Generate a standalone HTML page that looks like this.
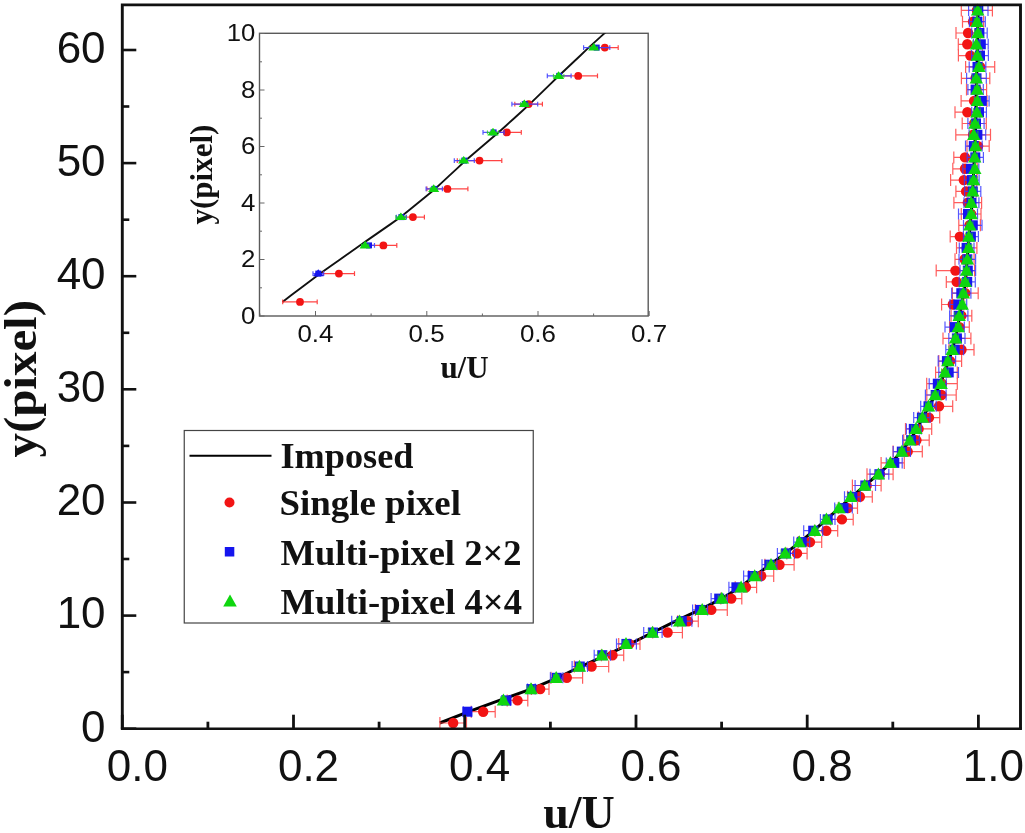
<!DOCTYPE html>
<html lang="en"><head><meta charset="utf-8"><title>Velocity profile u/U versus y(pixel)</title>
<style>html,body{margin:0;padding:0;background:#fff}body{width:1025px;height:833px;overflow:hidden}svg{display:block}</style>
</head><body>
<svg width="1025" height="833" viewBox="0 0 1025 833">
<rect x="0" y="0" width="1025" height="833" fill="#fff"/>
<g id="main-data">
<path d="M439.8 723.0 L468.7 711.7 L499.4 700.4 L530.8 689.1 L557.4 677.8 L580.8 666.5 L606.2 655.2 L630.2 643.9 L652.6 632.5 L675.6 621.2 L699.6 609.9 L721.9 598.6 L740.0 587.3 L754.9 576.0 L770.0 564.7 L785.3 553.4 L800.0 542.1 L813.8 530.7 L826.5 519.4 L839.2 508.1 L851.7 496.8 L865.0 485.5 L878.3 474.2 L891.0 462.9 L901.5 451.6 L910.0 440.2 L916.9 428.9 L922.8 417.6 L929.0 406.3 L935.3 395.0 L940.3 383.7 L944.7 372.4 L948.5 361.1 L952.4 349.7 L955.3 338.4 L957.7 327.1 L959.7 315.8 L961.5 304.5 L963.6 293.2 L965.3 281.9 L966.3 270.6 L967.2 259.3 L968.2 247.9 L969.1 236.6 L970.1 225.3 L971.1 214.0 L972.1 202.7 L972.7 191.4 L973.2 180.1 L973.8 168.8 L974.3 157.4 L974.8 146.1 L975.3 134.8 L975.7 123.5 L976.0 112.2 L976.2 100.9 L976.4 89.6 L976.7 78.3 L977.0 66.9 L977.3 55.6 L977.5 44.3 L977.7 33.0 L977.9 21.7 L978.1 10.4" stroke="#000" stroke-width="3" fill="none" stroke-linejoin="round"/>
<path d="M439.9 723.0H466.5M439.9 717.0V729.0M466.5 717.0V729.0" stroke="#ff4040" stroke-width="1.2" fill="none" opacity="0.85"/>
<path d="M471.2 711.7H495.2M471.2 705.7V717.7M495.2 705.7V717.7" stroke="#ff4040" stroke-width="1.2" fill="none" opacity="0.85"/>
<path d="M507.2 700.4H527.8M507.2 694.4V706.4M527.8 694.4V706.4" stroke="#ff4040" stroke-width="1.2" fill="none" opacity="0.85"/>
<path d="M531.4 689.1H549.0M531.4 683.1V695.1M549.0 683.1V695.1" stroke="#ff4040" stroke-width="1.2" fill="none" opacity="0.85"/>
<path d="M551.0 677.8H582.6M551.0 671.8V683.8M582.6 671.8V683.8" stroke="#ff4040" stroke-width="1.2" fill="none" opacity="0.85"/>
<path d="M574.4 666.5H608.7M574.4 660.5V672.5M608.7 660.5V672.5" stroke="#ff4040" stroke-width="1.2" fill="none" opacity="0.85"/>
<path d="M601.4 655.2H623.7M601.4 649.2V661.2M623.7 649.2V661.2" stroke="#ff4040" stroke-width="1.2" fill="none" opacity="0.85"/>
<path d="M618.7 643.9H640.0M618.7 637.9V649.9M640.0 637.9V649.9" stroke="#ff4040" stroke-width="1.2" fill="none" opacity="0.85"/>
<path d="M652.7 632.5H682.4M652.7 626.5V638.5M682.4 626.5V638.5" stroke="#ff4040" stroke-width="1.2" fill="none" opacity="0.85"/>
<path d="M677.8 621.2H698.3M677.8 615.2V627.2M698.3 615.2V627.2" stroke="#ff4040" stroke-width="1.2" fill="none" opacity="0.85"/>
<path d="M695.3 609.9H727.3M695.3 603.9V615.9M727.3 603.9V615.9" stroke="#ff4040" stroke-width="1.2" fill="none" opacity="0.85"/>
<path d="M720.8 598.6H741.8M720.8 592.6V604.6M741.8 592.6V604.6" stroke="#ff4040" stroke-width="1.2" fill="none" opacity="0.85"/>
<path d="M735.2 587.3H756.6M735.2 581.3V593.3M756.6 581.3V593.3" stroke="#ff4040" stroke-width="1.2" fill="none" opacity="0.85"/>
<path d="M748.8 576.0H773.7M748.8 570.0V582.0M773.7 570.0V582.0" stroke="#ff4040" stroke-width="1.2" fill="none" opacity="0.85"/>
<path d="M764.9 564.7H794.1M764.9 558.7V570.7M794.1 558.7V570.7" stroke="#ff4040" stroke-width="1.2" fill="none" opacity="0.85"/>
<path d="M786.8 553.4H807.1M786.8 547.4V559.4M807.1 547.4V559.4" stroke="#ff4040" stroke-width="1.2" fill="none" opacity="0.85"/>
<path d="M798.3 542.1H821.7M798.3 536.1V548.1M821.7 536.1V548.1" stroke="#ff4040" stroke-width="1.2" fill="none" opacity="0.85"/>
<path d="M814.8 530.7H837.7M814.8 524.7V536.7M837.7 524.7V536.7" stroke="#ff4040" stroke-width="1.2" fill="none" opacity="0.85"/>
<path d="M830.6 519.4H853.2M830.6 513.4V525.4M853.2 513.4V525.4" stroke="#ff4040" stroke-width="1.2" fill="none" opacity="0.85"/>
<path d="M838.3 508.1H857.5M838.3 502.1V514.1M857.5 502.1V514.1" stroke="#ff4040" stroke-width="1.2" fill="none" opacity="0.85"/>
<path d="M847.5 496.8H872.3M847.5 490.8V502.8M872.3 490.8V502.8" stroke="#ff4040" stroke-width="1.2" fill="none" opacity="0.85"/>
<path d="M852.4 485.5H881.1M852.4 479.5V491.5M881.1 479.5V491.5" stroke="#ff4040" stroke-width="1.2" fill="none" opacity="0.85"/>
<path d="M867.0 474.2H893.1M867.0 468.2V480.2M893.1 468.2V480.2" stroke="#ff4040" stroke-width="1.2" fill="none" opacity="0.85"/>
<path d="M881.1 462.9H904.3M881.1 456.9V468.9M904.3 456.9V468.9" stroke="#ff4040" stroke-width="1.2" fill="none" opacity="0.85"/>
<path d="M893.1 451.6H922.3M893.1 445.6V457.6M922.3 445.6V457.6" stroke="#ff4040" stroke-width="1.2" fill="none" opacity="0.85"/>
<path d="M903.7 440.2H929.2M903.7 434.2V446.2M929.2 434.2V446.2" stroke="#ff4040" stroke-width="1.2" fill="none" opacity="0.85"/>
<path d="M905.5 428.9H931.7M905.5 422.9V434.9M931.7 422.9V434.9" stroke="#ff4040" stroke-width="1.2" fill="none" opacity="0.85"/>
<path d="M918.3 417.6H939.7M918.3 411.6V423.6M939.7 411.6V423.6" stroke="#ff4040" stroke-width="1.2" fill="none" opacity="0.85"/>
<path d="M925.3 406.3H952.7M925.3 400.3V412.3M952.7 400.3V412.3" stroke="#ff4040" stroke-width="1.2" fill="none" opacity="0.85"/>
<path d="M926.8 395.0H956.2M926.8 389.0V401.0M956.2 389.0V401.0" stroke="#ff4040" stroke-width="1.2" fill="none" opacity="0.85"/>
<path d="M926.7 383.7H957.3M926.7 377.7V389.7M957.3 377.7V389.7" stroke="#ff4040" stroke-width="1.2" fill="none" opacity="0.85"/>
<path d="M935.6 372.4H957.3M935.6 366.4V378.4M957.3 366.4V378.4" stroke="#ff4040" stroke-width="1.2" fill="none" opacity="0.85"/>
<path d="M938.8 361.1H961.6M938.8 355.1V367.1M961.6 355.1V367.1" stroke="#ff4040" stroke-width="1.2" fill="none" opacity="0.85"/>
<path d="M949.0 349.7H974.0M949.0 343.7V355.7M974.0 343.7V355.7" stroke="#ff4040" stroke-width="1.2" fill="none" opacity="0.85"/>
<path d="M943.0 338.4H970.9M943.0 332.4V344.4M970.9 332.4V344.4" stroke="#ff4040" stroke-width="1.2" fill="none" opacity="0.85"/>
<path d="M949.6 327.1H969.3M949.6 321.1V333.1M969.3 321.1V333.1" stroke="#ff4040" stroke-width="1.2" fill="none" opacity="0.85"/>
<path d="M951.1 315.8H971.8M951.1 309.8V321.8M971.8 309.8V321.8" stroke="#ff4040" stroke-width="1.2" fill="none" opacity="0.85"/>
<path d="M941.6 304.5H963.9M941.6 298.5V310.5M963.9 298.5V310.5" stroke="#ff4040" stroke-width="1.2" fill="none" opacity="0.85"/>
<path d="M952.4 293.2H978.2M952.4 287.2V299.2M978.2 287.2V299.2" stroke="#ff4040" stroke-width="1.2" fill="none" opacity="0.85"/>
<path d="M946.3 281.9H967.2M946.3 275.9V287.9M967.2 275.9V287.9" stroke="#ff4040" stroke-width="1.2" fill="none" opacity="0.85"/>
<path d="M936.2 270.6H974.6M936.2 264.6V276.6M974.6 264.6V276.6" stroke="#ff4040" stroke-width="1.2" fill="none" opacity="0.85"/>
<path d="M955.0 259.3H974.1M955.0 253.3V265.3M974.1 253.3V265.3" stroke="#ff4040" stroke-width="1.2" fill="none" opacity="0.85"/>
<path d="M956.5 247.9H976.9M956.5 241.9V253.9M976.9 241.9V253.9" stroke="#ff4040" stroke-width="1.2" fill="none" opacity="0.85"/>
<path d="M950.2 236.6H969.4M950.2 230.6V242.6M969.4 230.6V242.6" stroke="#ff4040" stroke-width="1.2" fill="none" opacity="0.85"/>
<path d="M958.8 225.3H980.4M958.8 219.3V231.3M980.4 219.3V231.3" stroke="#ff4040" stroke-width="1.2" fill="none" opacity="0.85"/>
<path d="M961.3 214.0H981.0M961.3 208.0V220.0M981.0 208.0V220.0" stroke="#ff4040" stroke-width="1.2" fill="none" opacity="0.85"/>
<path d="M953.9 202.7H981.6M953.9 196.7V208.7M981.6 196.7V208.7" stroke="#ff4040" stroke-width="1.2" fill="none" opacity="0.85"/>
<path d="M955.9 191.4H976.4M955.9 185.4V197.4M976.4 185.4V197.4" stroke="#ff4040" stroke-width="1.2" fill="none" opacity="0.85"/>
<path d="M950.6 180.1H977.0M950.6 174.1V186.1M977.0 174.1V186.1" stroke="#ff4040" stroke-width="1.2" fill="none" opacity="0.85"/>
<path d="M952.8 168.8H977.2M952.8 162.8V174.8M977.2 162.8V174.8" stroke="#ff4040" stroke-width="1.2" fill="none" opacity="0.85"/>
<path d="M953.8 157.4H976.2M953.8 151.4V163.4M976.2 151.4V163.4" stroke="#ff4040" stroke-width="1.2" fill="none" opacity="0.85"/>
<path d="M967.0 146.1H989.2M967.0 140.1V152.1M989.2 140.1V152.1" stroke="#ff4040" stroke-width="1.2" fill="none" opacity="0.85"/>
<path d="M955.8 134.8H990.5M955.8 128.8V140.8M990.5 128.8V140.8" stroke="#ff4040" stroke-width="1.2" fill="none" opacity="0.85"/>
<path d="M962.2 123.5H986.3M962.2 117.5V129.5M986.3 117.5V129.5" stroke="#ff4040" stroke-width="1.2" fill="none" opacity="0.85"/>
<path d="M955.0 112.2H979.9M955.0 106.2V118.2M979.9 106.2V118.2" stroke="#ff4040" stroke-width="1.2" fill="none" opacity="0.85"/>
<path d="M961.1 100.9H987.0M961.1 94.9V106.9M987.0 94.9V106.9" stroke="#ff4040" stroke-width="1.2" fill="none" opacity="0.85"/>
<path d="M966.5 89.6H986.6M966.5 83.6V95.6M986.6 83.6V95.6" stroke="#ff4040" stroke-width="1.2" fill="none" opacity="0.85"/>
<path d="M961.4 78.3H989.8M961.4 72.3V84.3M989.8 72.3V84.3" stroke="#ff4040" stroke-width="1.2" fill="none" opacity="0.85"/>
<path d="M965.6 66.9H994.7M965.6 60.9V72.9M994.7 60.9V72.9" stroke="#ff4040" stroke-width="1.2" fill="none" opacity="0.85"/>
<path d="M958.4 55.6H982.5M958.4 49.6V61.6M982.5 49.6V61.6" stroke="#ff4040" stroke-width="1.2" fill="none" opacity="0.85"/>
<path d="M958.3 44.3H976.4M958.3 38.3V50.3M976.4 38.3V50.3" stroke="#ff4040" stroke-width="1.2" fill="none" opacity="0.85"/>
<path d="M956.0 33.0H980.2M956.0 27.0V39.0M980.2 27.0V39.0" stroke="#ff4040" stroke-width="1.2" fill="none" opacity="0.85"/>
<path d="M962.5 21.7H983.6M962.5 15.7V27.7M983.6 15.7V27.7" stroke="#ff4040" stroke-width="1.2" fill="none" opacity="0.85"/>
<path d="M961.3 10.4H992.4M961.3 4.4V16.4M992.4 4.4V16.4" stroke="#ff4040" stroke-width="1.2" fill="none" opacity="0.85"/>
<circle cx="453.2" cy="723.0" r="5.2" fill="#f21414"/>
<circle cx="483.2" cy="711.7" r="5.2" fill="#f21414"/>
<circle cx="517.5" cy="700.4" r="5.2" fill="#f21414"/>
<circle cx="540.2" cy="689.1" r="5.2" fill="#f21414"/>
<circle cx="566.8" cy="677.8" r="5.2" fill="#f21414"/>
<circle cx="591.6" cy="666.5" r="5.2" fill="#f21414"/>
<circle cx="612.5" cy="655.2" r="5.2" fill="#f21414"/>
<circle cx="629.3" cy="643.9" r="5.2" fill="#f21414"/>
<circle cx="667.6" cy="632.5" r="5.2" fill="#f21414"/>
<circle cx="688.0" cy="621.2" r="5.2" fill="#f21414"/>
<circle cx="711.3" cy="609.9" r="5.2" fill="#f21414"/>
<circle cx="731.3" cy="598.6" r="5.2" fill="#f21414"/>
<circle cx="745.9" cy="587.3" r="5.2" fill="#f21414"/>
<circle cx="761.2" cy="576.0" r="5.2" fill="#f21414"/>
<circle cx="779.5" cy="564.7" r="5.2" fill="#f21414"/>
<circle cx="797.0" cy="553.4" r="5.2" fill="#f21414"/>
<circle cx="810.0" cy="542.1" r="5.2" fill="#f21414"/>
<circle cx="826.3" cy="530.7" r="5.2" fill="#f21414"/>
<circle cx="841.9" cy="519.4" r="5.2" fill="#f21414"/>
<circle cx="847.9" cy="508.1" r="5.2" fill="#f21414"/>
<circle cx="859.9" cy="496.8" r="5.2" fill="#f21414"/>
<circle cx="866.7" cy="485.5" r="5.2" fill="#f21414"/>
<circle cx="880.0" cy="474.2" r="5.2" fill="#f21414"/>
<circle cx="892.7" cy="462.9" r="5.2" fill="#f21414"/>
<circle cx="907.7" cy="451.6" r="5.2" fill="#f21414"/>
<circle cx="916.4" cy="440.2" r="5.2" fill="#f21414"/>
<circle cx="918.6" cy="428.9" r="5.2" fill="#f21414"/>
<circle cx="929.0" cy="417.6" r="5.2" fill="#f21414"/>
<circle cx="939.0" cy="406.3" r="5.2" fill="#f21414"/>
<circle cx="941.5" cy="395.0" r="5.2" fill="#f21414"/>
<circle cx="942.0" cy="383.7" r="5.2" fill="#f21414"/>
<circle cx="946.4" cy="372.4" r="5.2" fill="#f21414"/>
<circle cx="950.2" cy="361.1" r="5.2" fill="#f21414"/>
<circle cx="961.5" cy="349.7" r="5.2" fill="#f21414"/>
<circle cx="957.0" cy="338.4" r="5.2" fill="#f21414"/>
<circle cx="959.5" cy="327.1" r="5.2" fill="#f21414"/>
<circle cx="961.4" cy="315.8" r="5.2" fill="#f21414"/>
<circle cx="952.8" cy="304.5" r="5.2" fill="#f21414"/>
<circle cx="965.3" cy="293.2" r="5.2" fill="#f21414"/>
<circle cx="956.7" cy="281.9" r="5.2" fill="#f21414"/>
<circle cx="955.4" cy="270.6" r="5.2" fill="#f21414"/>
<circle cx="964.6" cy="259.3" r="5.2" fill="#f21414"/>
<circle cx="966.7" cy="247.9" r="5.2" fill="#f21414"/>
<circle cx="959.8" cy="236.6" r="5.2" fill="#f21414"/>
<circle cx="969.6" cy="225.3" r="5.2" fill="#f21414"/>
<circle cx="971.1" cy="214.0" r="5.2" fill="#f21414"/>
<circle cx="967.8" cy="202.7" r="5.2" fill="#f21414"/>
<circle cx="966.1" cy="191.4" r="5.2" fill="#f21414"/>
<circle cx="963.8" cy="180.1" r="5.2" fill="#f21414"/>
<circle cx="965.0" cy="168.8" r="5.2" fill="#f21414"/>
<circle cx="965.0" cy="157.4" r="5.2" fill="#f21414"/>
<circle cx="978.1" cy="146.1" r="5.2" fill="#f21414"/>
<circle cx="973.1" cy="134.8" r="5.2" fill="#f21414"/>
<circle cx="974.2" cy="123.5" r="5.2" fill="#f21414"/>
<circle cx="967.4" cy="112.2" r="5.2" fill="#f21414"/>
<circle cx="974.1" cy="100.9" r="5.2" fill="#f21414"/>
<circle cx="976.6" cy="89.6" r="5.2" fill="#f21414"/>
<circle cx="975.6" cy="78.3" r="5.2" fill="#f21414"/>
<circle cx="980.2" cy="66.9" r="5.2" fill="#f21414"/>
<circle cx="970.4" cy="55.6" r="5.2" fill="#f21414"/>
<circle cx="967.3" cy="44.3" r="5.2" fill="#f21414"/>
<circle cx="968.1" cy="33.0" r="5.2" fill="#f21414"/>
<circle cx="973.0" cy="21.7" r="5.2" fill="#f21414"/>
<circle cx="976.9" cy="10.4" r="5.2" fill="#f21414"/>
<path d="M463.3 711.7H471.5M463.3 706.2V717.2M471.5 706.2V717.2" stroke="#3a3aff" stroke-width="1.2" fill="none" opacity="0.85"/>
<path d="M502.1 700.4H510.6M502.1 694.9V705.9M510.6 694.9V705.9" stroke="#3a3aff" stroke-width="1.2" fill="none" opacity="0.85"/>
<path d="M527.5 689.1H535.2M527.5 683.6V694.6M535.2 683.6V694.6" stroke="#3a3aff" stroke-width="1.2" fill="none" opacity="0.85"/>
<path d="M550.4 677.8H562.9M550.4 672.3V683.3M562.9 672.3V683.3" stroke="#3a3aff" stroke-width="1.2" fill="none" opacity="0.85"/>
<path d="M572.1 666.5H587.5M572.1 661.0V672.0M587.5 661.0V672.0" stroke="#3a3aff" stroke-width="1.2" fill="none" opacity="0.85"/>
<path d="M594.2 655.2H610.5M594.2 649.7V660.7M610.5 649.7V660.7" stroke="#3a3aff" stroke-width="1.2" fill="none" opacity="0.85"/>
<path d="M616.5 643.9H636.4M616.5 638.4V649.4M636.4 638.4V649.4" stroke="#3a3aff" stroke-width="1.2" fill="none" opacity="0.85"/>
<path d="M643.7 632.5H662.1M643.7 627.0V638.0M662.1 627.0V638.0" stroke="#3a3aff" stroke-width="1.2" fill="none" opacity="0.85"/>
<path d="M671.7 621.2H691.9M671.7 615.7V626.7M691.9 615.7V626.7" stroke="#3a3aff" stroke-width="1.2" fill="none" opacity="0.85"/>
<path d="M692.6 609.9H707.5M692.6 604.4V615.4M707.5 604.4V615.4" stroke="#3a3aff" stroke-width="1.2" fill="none" opacity="0.85"/>
<path d="M711.1 598.6H727.3M711.1 593.1V604.1M727.3 593.1V604.1" stroke="#3a3aff" stroke-width="1.2" fill="none" opacity="0.85"/>
<path d="M728.9 587.3H743.8M728.9 581.8V592.8M743.8 581.8V592.8" stroke="#3a3aff" stroke-width="1.2" fill="none" opacity="0.85"/>
<path d="M743.6 576.0H761.7M743.6 570.5V581.5M761.7 570.5V581.5" stroke="#3a3aff" stroke-width="1.2" fill="none" opacity="0.85"/>
<path d="M762.0 564.7H776.9M762.0 559.2V570.2M776.9 559.2V570.2" stroke="#3a3aff" stroke-width="1.2" fill="none" opacity="0.85"/>
<path d="M777.4 553.4H794.5M777.4 547.9V558.9M794.5 547.9V558.9" stroke="#3a3aff" stroke-width="1.2" fill="none" opacity="0.85"/>
<path d="M793.7 542.1H809.7M793.7 536.6V547.6M809.7 536.6V547.6" stroke="#3a3aff" stroke-width="1.2" fill="none" opacity="0.85"/>
<path d="M803.7 530.7H822.7M803.7 525.2V536.2M822.7 525.2V536.2" stroke="#3a3aff" stroke-width="1.2" fill="none" opacity="0.85"/>
<path d="M820.4 519.4H835.0M820.4 513.9V524.9M835.0 513.9V524.9" stroke="#3a3aff" stroke-width="1.2" fill="none" opacity="0.85"/>
<path d="M834.7 508.1H852.3M834.7 502.6V513.6M852.3 502.6V513.6" stroke="#3a3aff" stroke-width="1.2" fill="none" opacity="0.85"/>
<path d="M844.5 496.8H860.4M844.5 491.3V502.3M860.4 491.3V502.3" stroke="#3a3aff" stroke-width="1.2" fill="none" opacity="0.85"/>
<path d="M855.1 485.5H875.5M855.1 480.0V491.0M875.5 480.0V491.0" stroke="#3a3aff" stroke-width="1.2" fill="none" opacity="0.85"/>
<path d="M870.0 474.2H888.8M870.0 468.7V479.7M888.8 468.7V479.7" stroke="#3a3aff" stroke-width="1.2" fill="none" opacity="0.85"/>
<path d="M886.3 462.9H902.2M886.3 457.4V468.4M902.2 457.4V468.4" stroke="#3a3aff" stroke-width="1.2" fill="none" opacity="0.85"/>
<path d="M893.2 451.6H910.4M893.2 446.1V457.1M910.4 446.1V457.1" stroke="#3a3aff" stroke-width="1.2" fill="none" opacity="0.85"/>
<path d="M902.6 440.2H919.3M902.6 434.7V445.7M919.3 434.7V445.7" stroke="#3a3aff" stroke-width="1.2" fill="none" opacity="0.85"/>
<path d="M906.4 428.9H921.3M906.4 423.4V434.4M921.3 423.4V434.4" stroke="#3a3aff" stroke-width="1.2" fill="none" opacity="0.85"/>
<path d="M913.7 417.6H930.0M913.7 412.1V423.1M930.0 412.1V423.1" stroke="#3a3aff" stroke-width="1.2" fill="none" opacity="0.85"/>
<path d="M920.7 406.3H936.2M920.7 400.8V411.8M936.2 400.8V411.8" stroke="#3a3aff" stroke-width="1.2" fill="none" opacity="0.85"/>
<path d="M925.4 395.0H946.1M925.4 389.5V400.5M946.1 389.5V400.5" stroke="#3a3aff" stroke-width="1.2" fill="none" opacity="0.85"/>
<path d="M929.2 383.7H946.3M929.2 378.2V389.2M946.3 378.2V389.2" stroke="#3a3aff" stroke-width="1.2" fill="none" opacity="0.85"/>
<path d="M938.8 372.4H958.5M938.8 366.9V377.9M958.5 366.9V377.9" stroke="#3a3aff" stroke-width="1.2" fill="none" opacity="0.85"/>
<path d="M938.2 361.1H955.6M938.2 355.6V366.6M955.6 355.6V366.6" stroke="#3a3aff" stroke-width="1.2" fill="none" opacity="0.85"/>
<path d="M945.8 349.7H963.6M945.8 344.2V355.2M963.6 344.2V355.2" stroke="#3a3aff" stroke-width="1.2" fill="none" opacity="0.85"/>
<path d="M948.8 338.4H965.0M948.8 332.9V343.9M965.0 332.9V343.9" stroke="#3a3aff" stroke-width="1.2" fill="none" opacity="0.85"/>
<path d="M945.0 327.1H964.3M945.0 321.6V332.6M964.3 321.6V332.6" stroke="#3a3aff" stroke-width="1.2" fill="none" opacity="0.85"/>
<path d="M949.6 315.8H967.9M949.6 310.3V321.3M967.9 310.3V321.3" stroke="#3a3aff" stroke-width="1.2" fill="none" opacity="0.85"/>
<path d="M950.0 304.5H966.7M950.0 299.0V310.0M966.7 299.0V310.0" stroke="#3a3aff" stroke-width="1.2" fill="none" opacity="0.85"/>
<path d="M951.7 293.2H970.9M951.7 287.7V298.7M970.9 287.7V298.7" stroke="#3a3aff" stroke-width="1.2" fill="none" opacity="0.85"/>
<path d="M959.2 281.9H975.3M959.2 276.4V287.4M975.3 276.4V287.4" stroke="#3a3aff" stroke-width="1.2" fill="none" opacity="0.85"/>
<path d="M960.0 270.6H975.6M960.0 265.1V276.1M975.6 265.1V276.1" stroke="#3a3aff" stroke-width="1.2" fill="none" opacity="0.85"/>
<path d="M959.0 259.3H975.6M959.0 253.8V264.8M975.6 253.8V264.8" stroke="#3a3aff" stroke-width="1.2" fill="none" opacity="0.85"/>
<path d="M959.3 247.9H974.0M959.3 242.4V253.4M974.0 242.4V253.4" stroke="#3a3aff" stroke-width="1.2" fill="none" opacity="0.85"/>
<path d="M963.4 236.6H978.4M963.4 231.1V242.1M978.4 231.1V242.1" stroke="#3a3aff" stroke-width="1.2" fill="none" opacity="0.85"/>
<path d="M963.5 225.3H982.0M963.5 219.8V230.8M982.0 219.8V230.8" stroke="#3a3aff" stroke-width="1.2" fill="none" opacity="0.85"/>
<path d="M958.5 214.0H977.5M958.5 208.5V219.5M977.5 208.5V219.5" stroke="#3a3aff" stroke-width="1.2" fill="none" opacity="0.85"/>
<path d="M964.0 202.7H978.9M964.0 197.2V208.2M978.9 197.2V208.2" stroke="#3a3aff" stroke-width="1.2" fill="none" opacity="0.85"/>
<path d="M964.7 191.4H980.8M964.7 185.9V196.9M980.8 185.9V196.9" stroke="#3a3aff" stroke-width="1.2" fill="none" opacity="0.85"/>
<path d="M964.4 180.1H979.1M964.4 174.6V185.6M979.1 174.6V185.6" stroke="#3a3aff" stroke-width="1.2" fill="none" opacity="0.85"/>
<path d="M962.9 168.8H978.8M962.9 163.3V174.3M978.8 163.3V174.3" stroke="#3a3aff" stroke-width="1.2" fill="none" opacity="0.85"/>
<path d="M967.2 157.4H983.4M967.2 151.9V162.9M983.4 151.9V162.9" stroke="#3a3aff" stroke-width="1.2" fill="none" opacity="0.85"/>
<path d="M965.5 146.1H982.2M965.5 140.6V151.6M982.2 140.6V151.6" stroke="#3a3aff" stroke-width="1.2" fill="none" opacity="0.85"/>
<path d="M969.1 134.8H985.7M969.1 129.3V140.3M985.7 129.3V140.3" stroke="#3a3aff" stroke-width="1.2" fill="none" opacity="0.85"/>
<path d="M967.9 123.5H984.1M967.9 118.0V129.0M984.1 118.0V129.0" stroke="#3a3aff" stroke-width="1.2" fill="none" opacity="0.85"/>
<path d="M971.7 112.2H986.4M971.7 106.7V117.7M986.4 106.7V117.7" stroke="#3a3aff" stroke-width="1.2" fill="none" opacity="0.85"/>
<path d="M974.5 100.9H989.1M974.5 95.4V106.4M989.1 95.4V106.4" stroke="#3a3aff" stroke-width="1.2" fill="none" opacity="0.85"/>
<path d="M967.9 89.6H983.3M967.9 84.1V95.1M983.3 84.1V95.1" stroke="#3a3aff" stroke-width="1.2" fill="none" opacity="0.85"/>
<path d="M966.6 78.3H986.3M966.6 72.8V83.8M986.3 72.8V83.8" stroke="#3a3aff" stroke-width="1.2" fill="none" opacity="0.85"/>
<path d="M969.2 66.9H985.8M969.2 61.4V72.4M985.8 61.4V72.4" stroke="#3a3aff" stroke-width="1.2" fill="none" opacity="0.85"/>
<path d="M971.6 55.6H988.4M971.6 50.1V61.1M988.4 50.1V61.1" stroke="#3a3aff" stroke-width="1.2" fill="none" opacity="0.85"/>
<path d="M973.4 44.3H988.2M973.4 38.8V49.8M988.2 38.8V49.8" stroke="#3a3aff" stroke-width="1.2" fill="none" opacity="0.85"/>
<path d="M971.7 33.0H987.2M971.7 27.5V38.5M987.2 27.5V38.5" stroke="#3a3aff" stroke-width="1.2" fill="none" opacity="0.85"/>
<path d="M969.4 21.7H985.3M969.4 16.2V27.2M985.3 16.2V27.2" stroke="#3a3aff" stroke-width="1.2" fill="none" opacity="0.85"/>
<path d="M968.6 10.4H988.0M968.6 4.9V15.9M988.0 4.9V15.9" stroke="#3a3aff" stroke-width="1.2" fill="none" opacity="0.85"/>
<rect x="462.4" y="706.7" width="10" height="10" fill="#1515ee"/>
<rect x="501.4" y="695.4" width="10" height="10" fill="#1515ee"/>
<rect x="526.4" y="684.1" width="10" height="10" fill="#1515ee"/>
<rect x="551.7" y="672.8" width="10" height="10" fill="#1515ee"/>
<rect x="574.8" y="661.5" width="10" height="10" fill="#1515ee"/>
<rect x="597.3" y="650.2" width="10" height="10" fill="#1515ee"/>
<rect x="621.4" y="638.9" width="10" height="10" fill="#1515ee"/>
<rect x="647.9" y="627.5" width="10" height="10" fill="#1515ee"/>
<rect x="676.8" y="616.2" width="10" height="10" fill="#1515ee"/>
<rect x="695.1" y="604.9" width="10" height="10" fill="#1515ee"/>
<rect x="714.2" y="593.6" width="10" height="10" fill="#1515ee"/>
<rect x="731.4" y="582.3" width="10" height="10" fill="#1515ee"/>
<rect x="747.6" y="571.0" width="10" height="10" fill="#1515ee"/>
<rect x="764.4" y="559.7" width="10" height="10" fill="#1515ee"/>
<rect x="780.9" y="548.4" width="10" height="10" fill="#1515ee"/>
<rect x="796.7" y="537.1" width="10" height="10" fill="#1515ee"/>
<rect x="808.2" y="525.7" width="10" height="10" fill="#1515ee"/>
<rect x="822.7" y="514.4" width="10" height="10" fill="#1515ee"/>
<rect x="838.5" y="503.1" width="10" height="10" fill="#1515ee"/>
<rect x="847.4" y="491.8" width="10" height="10" fill="#1515ee"/>
<rect x="860.3" y="480.5" width="10" height="10" fill="#1515ee"/>
<rect x="874.4" y="469.2" width="10" height="10" fill="#1515ee"/>
<rect x="889.3" y="457.9" width="10" height="10" fill="#1515ee"/>
<rect x="896.8" y="446.6" width="10" height="10" fill="#1515ee"/>
<rect x="906.0" y="435.2" width="10" height="10" fill="#1515ee"/>
<rect x="908.8" y="423.9" width="10" height="10" fill="#1515ee"/>
<rect x="916.9" y="412.6" width="10" height="10" fill="#1515ee"/>
<rect x="923.5" y="401.3" width="10" height="10" fill="#1515ee"/>
<rect x="930.7" y="390.0" width="10" height="10" fill="#1515ee"/>
<rect x="932.8" y="378.7" width="10" height="10" fill="#1515ee"/>
<rect x="943.7" y="367.4" width="10" height="10" fill="#1515ee"/>
<rect x="941.9" y="356.1" width="10" height="10" fill="#1515ee"/>
<rect x="949.7" y="344.7" width="10" height="10" fill="#1515ee"/>
<rect x="951.9" y="333.4" width="10" height="10" fill="#1515ee"/>
<rect x="949.7" y="322.1" width="10" height="10" fill="#1515ee"/>
<rect x="953.7" y="310.8" width="10" height="10" fill="#1515ee"/>
<rect x="953.3" y="299.5" width="10" height="10" fill="#1515ee"/>
<rect x="956.3" y="288.2" width="10" height="10" fill="#1515ee"/>
<rect x="962.2" y="276.9" width="10" height="10" fill="#1515ee"/>
<rect x="962.8" y="265.6" width="10" height="10" fill="#1515ee"/>
<rect x="962.3" y="254.3" width="10" height="10" fill="#1515ee"/>
<rect x="961.6" y="242.9" width="10" height="10" fill="#1515ee"/>
<rect x="965.9" y="231.6" width="10" height="10" fill="#1515ee"/>
<rect x="967.8" y="220.3" width="10" height="10" fill="#1515ee"/>
<rect x="963.0" y="209.0" width="10" height="10" fill="#1515ee"/>
<rect x="966.5" y="197.7" width="10" height="10" fill="#1515ee"/>
<rect x="967.8" y="186.4" width="10" height="10" fill="#1515ee"/>
<rect x="966.8" y="175.1" width="10" height="10" fill="#1515ee"/>
<rect x="965.9" y="163.8" width="10" height="10" fill="#1515ee"/>
<rect x="970.3" y="152.4" width="10" height="10" fill="#1515ee"/>
<rect x="968.8" y="141.1" width="10" height="10" fill="#1515ee"/>
<rect x="972.4" y="129.8" width="10" height="10" fill="#1515ee"/>
<rect x="971.0" y="118.5" width="10" height="10" fill="#1515ee"/>
<rect x="974.0" y="107.2" width="10" height="10" fill="#1515ee"/>
<rect x="976.8" y="95.9" width="10" height="10" fill="#1515ee"/>
<rect x="970.6" y="84.6" width="10" height="10" fill="#1515ee"/>
<rect x="971.5" y="73.3" width="10" height="10" fill="#1515ee"/>
<rect x="972.5" y="61.9" width="10" height="10" fill="#1515ee"/>
<rect x="975.0" y="50.6" width="10" height="10" fill="#1515ee"/>
<rect x="975.8" y="39.3" width="10" height="10" fill="#1515ee"/>
<rect x="974.4" y="28.0" width="10" height="10" fill="#1515ee"/>
<rect x="972.4" y="16.7" width="10" height="10" fill="#1515ee"/>
<rect x="973.3" y="5.4" width="10" height="10" fill="#1515ee"/>
<path d="M500.6 700.4H506.1M500.6 696.4V704.4M506.1 696.4V704.4" stroke="#22cc22" stroke-width="1" fill="none" opacity="0.8"/>
<path d="M527.1 689.1H534.8M527.1 685.1V693.1M534.8 685.1V693.1" stroke="#22cc22" stroke-width="1" fill="none" opacity="0.8"/>
<path d="M553.6 677.8H558.9M553.6 673.8V681.8M558.9 673.8V681.8" stroke="#22cc22" stroke-width="1" fill="none" opacity="0.8"/>
<path d="M576.5 666.5H582.3M576.5 662.5V670.5M582.3 662.5V670.5" stroke="#22cc22" stroke-width="1" fill="none" opacity="0.8"/>
<path d="M597.6 655.2H606.3M597.6 651.2V659.2M606.3 651.2V659.2" stroke="#22cc22" stroke-width="1" fill="none" opacity="0.8"/>
<path d="M623.1 643.9H628.9M623.1 639.9V647.9M628.9 639.9V647.9" stroke="#22cc22" stroke-width="1" fill="none" opacity="0.8"/>
<path d="M648.4 632.5H656.5M648.4 628.5V636.5M656.5 628.5V636.5" stroke="#22cc22" stroke-width="1" fill="none" opacity="0.8"/>
<path d="M676.5 621.2H682.6M676.5 617.2V625.2M682.6 617.2V625.2" stroke="#22cc22" stroke-width="1" fill="none" opacity="0.8"/>
<path d="M699.5 609.9H704.9M699.5 605.9V613.9M704.9 605.9V613.9" stroke="#22cc22" stroke-width="1" fill="none" opacity="0.8"/>
<path d="M718.2 598.6H725.4M718.2 594.6V602.6M725.4 594.6V602.6" stroke="#22cc22" stroke-width="1" fill="none" opacity="0.8"/>
<path d="M738.2 587.3H744.0M738.2 583.3V591.3M744.0 583.3V591.3" stroke="#22cc22" stroke-width="1" fill="none" opacity="0.8"/>
<path d="M751.1 576.0H758.3M751.1 572.0V580.0M758.3 572.0V580.0" stroke="#22cc22" stroke-width="1" fill="none" opacity="0.8"/>
<path d="M767.1 564.7H774.8M767.1 560.7V568.7M774.8 560.7V568.7" stroke="#22cc22" stroke-width="1" fill="none" opacity="0.8"/>
<path d="M781.1 553.4H789.3M781.1 549.4V557.4M789.3 549.4V557.4" stroke="#22cc22" stroke-width="1" fill="none" opacity="0.8"/>
<path d="M796.6 542.1H802.1M796.6 538.1V546.1M802.1 538.1V546.1" stroke="#22cc22" stroke-width="1" fill="none" opacity="0.8"/>
<path d="M811.7 530.7H818.0M811.7 526.7V534.7M818.0 526.7V534.7" stroke="#22cc22" stroke-width="1" fill="none" opacity="0.8"/>
<path d="M823.3 519.4H829.6M823.3 515.4V523.4M829.6 515.4V523.4" stroke="#22cc22" stroke-width="1" fill="none" opacity="0.8"/>
<path d="M836.0 508.1H842.0M836.0 504.1V512.1M842.0 504.1V512.1" stroke="#22cc22" stroke-width="1" fill="none" opacity="0.8"/>
<path d="M847.8 496.8H853.7M847.8 492.8V500.8M853.7 492.8V500.8" stroke="#22cc22" stroke-width="1" fill="none" opacity="0.8"/>
<path d="M861.9 485.5H867.5M861.9 481.5V489.5M867.5 481.5V489.5" stroke="#22cc22" stroke-width="1" fill="none" opacity="0.8"/>
<path d="M875.8 474.2H881.0M875.8 470.2V478.2M881.0 470.2V478.2" stroke="#22cc22" stroke-width="1" fill="none" opacity="0.8"/>
<path d="M887.3 462.9H893.5M887.3 458.9V466.9M893.5 458.9V466.9" stroke="#22cc22" stroke-width="1" fill="none" opacity="0.8"/>
<path d="M899.0 451.6H904.7M899.0 447.6V455.6M904.7 447.6V455.6" stroke="#22cc22" stroke-width="1" fill="none" opacity="0.8"/>
<path d="M906.7 440.2H912.8M906.7 436.2V444.2M912.8 436.2V444.2" stroke="#22cc22" stroke-width="1" fill="none" opacity="0.8"/>
<path d="M911.7 428.9H920.2M911.7 424.9V432.9M920.2 424.9V432.9" stroke="#22cc22" stroke-width="1" fill="none" opacity="0.8"/>
<path d="M918.9 417.6H925.9M918.9 413.6V421.6M925.9 413.6V421.6" stroke="#22cc22" stroke-width="1" fill="none" opacity="0.8"/>
<path d="M925.7 406.3H931.3M925.7 402.3V410.3M931.3 402.3V410.3" stroke="#22cc22" stroke-width="1" fill="none" opacity="0.8"/>
<path d="M932.0 395.0H938.3M932.0 391.0V399.0M938.3 391.0V399.0" stroke="#22cc22" stroke-width="1" fill="none" opacity="0.8"/>
<path d="M937.7 383.7H944.5M937.7 379.7V387.7M944.5 379.7V387.7" stroke="#22cc22" stroke-width="1" fill="none" opacity="0.8"/>
<path d="M941.5 372.4H948.6M941.5 368.4V376.4M948.6 368.4V376.4" stroke="#22cc22" stroke-width="1" fill="none" opacity="0.8"/>
<path d="M945.2 361.1H950.7M945.2 357.1V365.1M950.7 357.1V365.1" stroke="#22cc22" stroke-width="1" fill="none" opacity="0.8"/>
<path d="M948.9 349.7H955.7M948.9 345.7V353.7M955.7 345.7V353.7" stroke="#22cc22" stroke-width="1" fill="none" opacity="0.8"/>
<path d="M952.7 338.4H958.4M952.7 334.4V342.4M958.4 334.4V342.4" stroke="#22cc22" stroke-width="1" fill="none" opacity="0.8"/>
<path d="M955.5 327.1H961.0M955.5 323.1V331.1M961.0 323.1V331.1" stroke="#22cc22" stroke-width="1" fill="none" opacity="0.8"/>
<path d="M954.8 315.8H963.5M954.8 311.8V319.8M963.5 311.8V319.8" stroke="#22cc22" stroke-width="1" fill="none" opacity="0.8"/>
<path d="M959.5 304.5H964.9M959.5 300.5V308.5M964.9 300.5V308.5" stroke="#22cc22" stroke-width="1" fill="none" opacity="0.8"/>
<path d="M960.1 293.2H966.6M960.1 289.2V297.2M966.6 289.2V297.2" stroke="#22cc22" stroke-width="1" fill="none" opacity="0.8"/>
<path d="M961.6 281.9H968.7M961.6 277.9V285.9M968.7 277.9V285.9" stroke="#22cc22" stroke-width="1" fill="none" opacity="0.8"/>
<path d="M963.5 270.6H969.6M963.5 266.6V274.6M969.6 266.6V274.6" stroke="#22cc22" stroke-width="1" fill="none" opacity="0.8"/>
<path d="M963.3 259.3H971.4M963.3 255.3V263.3M971.4 255.3V263.3" stroke="#22cc22" stroke-width="1" fill="none" opacity="0.8"/>
<path d="M965.4 247.9H971.9M965.4 243.9V251.9M971.9 243.9V251.9" stroke="#22cc22" stroke-width="1" fill="none" opacity="0.8"/>
<path d="M965.4 236.6H972.2M965.4 232.6V240.6M972.2 232.6V240.6" stroke="#22cc22" stroke-width="1" fill="none" opacity="0.8"/>
<path d="M966.9 225.3H972.9M966.9 221.3V229.3M972.9 221.3V229.3" stroke="#22cc22" stroke-width="1" fill="none" opacity="0.8"/>
<path d="M968.0 214.0H974.4M968.0 210.0V218.0M974.4 210.0V218.0" stroke="#22cc22" stroke-width="1" fill="none" opacity="0.8"/>
<path d="M968.5 202.7H973.9M968.5 198.7V206.7M973.9 198.7V206.7" stroke="#22cc22" stroke-width="1" fill="none" opacity="0.8"/>
<path d="M969.3 191.4H976.1M969.3 187.4V195.4M976.1 187.4V195.4" stroke="#22cc22" stroke-width="1" fill="none" opacity="0.8"/>
<path d="M970.0 180.1H977.3M970.0 176.1V184.1M977.3 176.1V184.1" stroke="#22cc22" stroke-width="1" fill="none" opacity="0.8"/>
<path d="M972.1 168.8H977.4M972.1 164.8V172.8M977.4 164.8V172.8" stroke="#22cc22" stroke-width="1" fill="none" opacity="0.8"/>
<path d="M972.1 157.4H977.3M972.1 153.4V161.4M977.3 153.4V161.4" stroke="#22cc22" stroke-width="1" fill="none" opacity="0.8"/>
<path d="M972.4 146.1H978.5M972.4 142.1V150.1M978.5 142.1V150.1" stroke="#22cc22" stroke-width="1" fill="none" opacity="0.8"/>
<path d="M969.7 134.8H977.9M969.7 130.8V138.8M977.9 130.8V138.8" stroke="#22cc22" stroke-width="1" fill="none" opacity="0.8"/>
<path d="M971.3 123.5H978.7M971.3 119.5V127.5M978.7 119.5V127.5" stroke="#22cc22" stroke-width="1" fill="none" opacity="0.8"/>
<path d="M973.5 112.2H980.2M973.5 108.2V116.2M980.2 108.2V116.2" stroke="#22cc22" stroke-width="1" fill="none" opacity="0.8"/>
<path d="M974.3 100.9H980.4M974.3 96.9V104.9M980.4 96.9V104.9" stroke="#22cc22" stroke-width="1" fill="none" opacity="0.8"/>
<path d="M974.4 89.6H979.8M974.4 85.6V93.6M979.8 85.6V93.6" stroke="#22cc22" stroke-width="1" fill="none" opacity="0.8"/>
<path d="M972.7 78.3H979.9M972.7 74.3V82.3M979.9 74.3V82.3" stroke="#22cc22" stroke-width="1" fill="none" opacity="0.8"/>
<path d="M975.9 66.9H982.0M975.9 62.9V70.9M982.0 62.9V70.9" stroke="#22cc22" stroke-width="1" fill="none" opacity="0.8"/>
<path d="M974.1 55.6H980.8M974.1 51.6V59.6M980.8 51.6V59.6" stroke="#22cc22" stroke-width="1" fill="none" opacity="0.8"/>
<path d="M972.8 44.3H980.0M972.8 40.3V48.3M980.0 40.3V48.3" stroke="#22cc22" stroke-width="1" fill="none" opacity="0.8"/>
<path d="M974.7 33.0H981.1M974.7 29.0V37.0M981.1 29.0V37.0" stroke="#22cc22" stroke-width="1" fill="none" opacity="0.8"/>
<path d="M974.3 21.7H979.6M974.3 17.7V25.7M979.6 17.7V25.7" stroke="#22cc22" stroke-width="1" fill="none" opacity="0.8"/>
<path d="M974.2 10.4H981.2M974.2 6.4V14.4M981.2 6.4V14.4" stroke="#22cc22" stroke-width="1" fill="none" opacity="0.8"/>
<path d="M503.4 693.6L510.1 705.6H496.7Z" fill="#0fd60f"/>
<path d="M531.0 682.3L537.7 694.3H524.3Z" fill="#0fd60f"/>
<path d="M556.2 671.0L562.9 683.0H549.5Z" fill="#0fd60f"/>
<path d="M579.4 659.7L586.1 671.7H572.7Z" fill="#0fd60f"/>
<path d="M601.9 648.4L608.6 660.4H595.2Z" fill="#0fd60f"/>
<path d="M626.0 637.1L632.7 649.1H619.3Z" fill="#0fd60f"/>
<path d="M652.5 625.7L659.2 637.7H645.8Z" fill="#0fd60f"/>
<path d="M679.6 614.4L686.3 626.4H672.9Z" fill="#0fd60f"/>
<path d="M702.2 603.1L708.9 615.1H695.5Z" fill="#0fd60f"/>
<path d="M721.8 591.8L728.5 603.8H715.1Z" fill="#0fd60f"/>
<path d="M741.1 580.5L747.8 592.5H734.4Z" fill="#0fd60f"/>
<path d="M754.7 569.2L761.4 581.2H748.0Z" fill="#0fd60f"/>
<path d="M771.0 557.9L777.7 569.9H764.3Z" fill="#0fd60f"/>
<path d="M785.2 546.6L791.9 558.6H778.5Z" fill="#0fd60f"/>
<path d="M799.3 535.3L806.0 547.3H792.6Z" fill="#0fd60f"/>
<path d="M814.8 523.9L821.5 535.9H808.1Z" fill="#0fd60f"/>
<path d="M826.4 512.6L833.1 524.6H819.7Z" fill="#0fd60f"/>
<path d="M839.0 501.3L845.7 513.3H832.3Z" fill="#0fd60f"/>
<path d="M850.7 490.0L857.4 502.0H844.0Z" fill="#0fd60f"/>
<path d="M864.7 478.7L871.4 490.7H858.0Z" fill="#0fd60f"/>
<path d="M878.4 467.4L885.1 479.4H871.7Z" fill="#0fd60f"/>
<path d="M890.4 456.1L897.1 468.1H883.7Z" fill="#0fd60f"/>
<path d="M901.9 444.8L908.6 456.8H895.2Z" fill="#0fd60f"/>
<path d="M909.8 433.4L916.5 445.4H903.1Z" fill="#0fd60f"/>
<path d="M916.0 422.1L922.7 434.1H909.3Z" fill="#0fd60f"/>
<path d="M922.4 410.8L929.1 422.8H915.7Z" fill="#0fd60f"/>
<path d="M928.5 399.5L935.2 411.5H921.8Z" fill="#0fd60f"/>
<path d="M935.2 388.2L941.9 400.2H928.5Z" fill="#0fd60f"/>
<path d="M941.1 376.9L947.8 388.9H934.4Z" fill="#0fd60f"/>
<path d="M945.0 365.6L951.7 377.6H938.3Z" fill="#0fd60f"/>
<path d="M947.9 354.3L954.6 366.3H941.2Z" fill="#0fd60f"/>
<path d="M952.3 342.9L959.0 354.9H945.6Z" fill="#0fd60f"/>
<path d="M955.5 331.6L962.2 343.6H948.8Z" fill="#0fd60f"/>
<path d="M958.2 320.3L964.9 332.3H951.5Z" fill="#0fd60f"/>
<path d="M959.2 309.0L965.9 321.0H952.5Z" fill="#0fd60f"/>
<path d="M962.2 297.7L968.9 309.7H955.5Z" fill="#0fd60f"/>
<path d="M963.3 286.4L970.0 298.4H956.6Z" fill="#0fd60f"/>
<path d="M965.2 275.1L971.9 287.1H958.5Z" fill="#0fd60f"/>
<path d="M966.6 263.8L973.3 275.8H959.9Z" fill="#0fd60f"/>
<path d="M967.3 252.5L974.0 264.5H960.6Z" fill="#0fd60f"/>
<path d="M968.6 241.1L975.3 253.1H961.9Z" fill="#0fd60f"/>
<path d="M968.8 229.8L975.5 241.8H962.1Z" fill="#0fd60f"/>
<path d="M969.9 218.5L976.6 230.5H963.2Z" fill="#0fd60f"/>
<path d="M971.2 207.2L977.9 219.2H964.5Z" fill="#0fd60f"/>
<path d="M971.2 195.9L977.9 207.9H964.5Z" fill="#0fd60f"/>
<path d="M972.7 184.6L979.4 196.6H966.0Z" fill="#0fd60f"/>
<path d="M973.6 173.3L980.3 185.3H966.9Z" fill="#0fd60f"/>
<path d="M974.8 162.0L981.5 174.0H968.1Z" fill="#0fd60f"/>
<path d="M974.7 150.6L981.4 162.6H968.0Z" fill="#0fd60f"/>
<path d="M975.4 139.3L982.1 151.3H968.7Z" fill="#0fd60f"/>
<path d="M973.8 128.0L980.5 140.0H967.1Z" fill="#0fd60f"/>
<path d="M975.0 116.7L981.7 128.7H968.3Z" fill="#0fd60f"/>
<path d="M976.9 105.4L983.6 117.4H970.2Z" fill="#0fd60f"/>
<path d="M977.4 94.1L984.1 106.1H970.7Z" fill="#0fd60f"/>
<path d="M977.1 82.8L983.8 94.8H970.4Z" fill="#0fd60f"/>
<path d="M976.3 71.5L983.0 83.5H969.6Z" fill="#0fd60f"/>
<path d="M978.9 60.1L985.6 72.1H972.2Z" fill="#0fd60f"/>
<path d="M977.4 48.8L984.1 60.8H970.7Z" fill="#0fd60f"/>
<path d="M976.4 37.5L983.1 49.5H969.7Z" fill="#0fd60f"/>
<path d="M977.9 26.2L984.6 38.2H971.2Z" fill="#0fd60f"/>
<path d="M977.0 14.9L983.7 26.9H970.3Z" fill="#0fd60f"/>
<path d="M977.7 3.6L984.4 15.6H971.0Z" fill="#0fd60f"/>
</g>
<g id="main-axes" stroke="#111" fill="none">
<path d="M122.3 728.7V4.9H1020.5V728.7" stroke-width="2.9" stroke-linejoin="miter"/>
<path d="M120.85 728.7H1021.95" stroke-width="2.6"/>
<path d="M122.3 728.7h14" stroke-width="2.6"/>
<path d="M122.3 672.1h7" stroke-width="2.6"/>
<path d="M122.3 615.6h14" stroke-width="2.6"/>
<path d="M122.3 559.0h7" stroke-width="2.6"/>
<path d="M122.3 502.5h14" stroke-width="2.6"/>
<path d="M122.3 445.9h7" stroke-width="2.6"/>
<path d="M122.3 389.3h14" stroke-width="2.6"/>
<path d="M122.3 332.8h7" stroke-width="2.6"/>
<path d="M122.3 276.2h14" stroke-width="2.6"/>
<path d="M122.3 219.7h7" stroke-width="2.6"/>
<path d="M122.3 163.1h14" stroke-width="2.6"/>
<path d="M122.3 106.5h7" stroke-width="2.6"/>
<path d="M122.3 50.0h14" stroke-width="2.6"/>
<path d="M122.3 728.7v-14" stroke-width="2.8"/>
<path d="M207.9 728.7v-7" stroke-width="2.8"/>
<path d="M293.5 728.7v-14" stroke-width="2.8"/>
<path d="M379.1 728.7v-7" stroke-width="2.8"/>
<path d="M464.7 728.7v-14" stroke-width="2.8"/>
<path d="M550.4 728.7v-7" stroke-width="2.8"/>
<path d="M636.0 728.7v-14" stroke-width="2.8"/>
<path d="M721.6 728.7v-7" stroke-width="2.8"/>
<path d="M807.2 728.7v-14" stroke-width="2.8"/>
<path d="M892.8 728.7v-7" stroke-width="2.8"/>
<path d="M978.4 728.7v-14" stroke-width="2.8"/>
</g>
<g font-family="Liberation Sans, Arial, sans-serif" font-size="44" fill="#111">
<text x="105.6" y="741.5" text-anchor="end">0</text>
<text x="105.6" y="628.4" text-anchor="end">10</text>
<text x="105.6" y="515.3" text-anchor="end">20</text>
<text x="105.6" y="402.1" text-anchor="end">30</text>
<text x="105.6" y="289.0" text-anchor="end">40</text>
<text x="105.6" y="175.9" text-anchor="end">50</text>
<text x="105.6" y="62.8" text-anchor="end">60</text>
<text x="137.3" y="780.5" text-anchor="middle">0.0</text>
<text x="308.5" y="780.5" text-anchor="middle">0.2</text>
<text x="479.7" y="780.5" text-anchor="middle">0.4</text>
<text x="651.0" y="780.5" text-anchor="middle">0.6</text>
<text x="822.2" y="780.5" text-anchor="middle">0.8</text>
<text x="993.4" y="780.5" text-anchor="middle">1.0</text>
</g>
<g font-family="Liberation Serif, Times New Roman, serif" font-weight="bold" fill="#111">
<text x="579" y="827.5" font-size="46" text-anchor="middle">u/U</text>
<text transform="translate(36 378.8) rotate(-90) scale(1.04 1)" font-size="47" text-anchor="middle">y(pixel)</text>
</g>
<g id="legend">
<rect x="184.25" y="430.5" width="349" height="192.5" fill="#fff" stroke="#444" stroke-width="1.2"/>
<path d="M189.5 455.75H271.5" stroke="#000" stroke-width="2.2"/>
<circle cx="229.5" cy="502.5" r="5" fill="#f21414"/>
<rect x="224.8" y="547" width="9.5" height="9.5" fill="#1515ee"/>
<path d="M230 594.5L236.8 606.5H223.2Z" fill="#0fd60f"/>
<g font-family="Liberation Serif, Times New Roman, serif" font-weight="bold" font-size="36.5" fill="#111">
<text x="280.5" y="467.5" textLength="133" lengthAdjust="spacingAndGlyphs">Imposed</text>
<text x="279.5" y="515" textLength="181.5" lengthAdjust="spacingAndGlyphs">Single pixel</text>
<text x="280.5" y="564.5" textLength="241" lengthAdjust="spacingAndGlyphs">Multi-pixel 2×2</text>
<text x="280.5" y="613.5" textLength="241.5" lengthAdjust="spacingAndGlyphs">Multi-pixel 4×4</text>
</g></g>
<g id="inset">
<rect x="259.5" y="33.3" width="388.7" height="282.7" fill="#fff" stroke="#5a5a5a" stroke-width="1.4"/>
<clipPath id="ic"><rect x="259.5" y="33.3" width="388.7" height="282.7"/></clipPath>
<g clip-path="url(#ic)">
<path d="M282.5 301.9 L291.8 294.8 L301.2 287.8 L310.5 280.8 L319.8 273.8 L329.7 266.7 L339.7 259.7 L349.6 252.7 L359.5 245.7 L369.7 238.6 L379.8 231.6 L389.9 224.6 L400.0 217.6 L408.7 210.5 L417.3 203.5 L425.9 196.5 L434.4 189.5 L442.1 182.4 L449.6 175.4 L457.2 168.4 L464.7 161.3 L472.9 154.3 L481.1 147.3 L489.3 140.3 L497.5 133.2 L505.4 126.2 L513.1 119.2 L520.8 112.2 L528.6 105.1 L535.9 98.1 L543.1 91.1 L550.3 84.1 L557.6 77.0 L565.0 70.0 L572.4 63.0 L579.9 56.0 L587.3 48.9 L595.0 41.9 L602.7 34.9 L610.5 27.9" stroke="#111" stroke-width="1.9" fill="none"/>
<path d="M282.7 301.9H317.2M282.7 299.6V304.2M317.2 299.6V304.2" stroke="#ff3030" stroke-width="1.2" fill="none" opacity="0.9"/>
<path d="M323.3 273.6H354.5M323.3 271.3V275.9M354.5 271.3V275.9" stroke="#ff3030" stroke-width="1.2" fill="none" opacity="0.9"/>
<path d="M370.1 245.4H396.8M370.1 243.1V247.7M396.8 243.1V247.7" stroke="#ff3030" stroke-width="1.2" fill="none" opacity="0.9"/>
<path d="M401.4 217.1H424.4M401.4 214.8V219.4M424.4 214.8V219.4" stroke="#ff3030" stroke-width="1.2" fill="none" opacity="0.9"/>
<path d="M426.9 188.9H467.9M426.9 186.6V191.2M467.9 186.6V191.2" stroke="#ff3030" stroke-width="1.2" fill="none" opacity="0.9"/>
<path d="M457.3 160.6H501.8M457.3 158.3V162.9M501.8 158.3V162.9" stroke="#ff3030" stroke-width="1.2" fill="none" opacity="0.9"/>
<path d="M492.3 132.4H521.3M492.3 130.1V134.7M521.3 130.1V134.7" stroke="#ff3030" stroke-width="1.2" fill="none" opacity="0.9"/>
<path d="M514.8 104.1H542.4M514.8 101.8V106.4M542.4 101.8V106.4" stroke="#ff3030" stroke-width="1.2" fill="none" opacity="0.9"/>
<path d="M559.0 75.9H597.5M559.0 73.6V78.2M597.5 73.6V78.2" stroke="#ff3030" stroke-width="1.2" fill="none" opacity="0.9"/>
<path d="M591.5 47.6H618.2M591.5 45.3V49.9M618.2 45.3V49.9" stroke="#ff3030" stroke-width="1.2" fill="none" opacity="0.9"/>
<circle cx="300.0" cy="301.9" r="3.9" fill="#f21414"/>
<circle cx="338.9" cy="273.6" r="3.9" fill="#f21414"/>
<circle cx="383.4" cy="245.4" r="3.9" fill="#f21414"/>
<circle cx="412.9" cy="217.1" r="3.9" fill="#f21414"/>
<circle cx="447.4" cy="188.9" r="3.9" fill="#f21414"/>
<circle cx="479.5" cy="160.6" r="3.9" fill="#f21414"/>
<circle cx="506.8" cy="132.4" r="3.9" fill="#f21414"/>
<circle cx="528.6" cy="104.1" r="3.9" fill="#f21414"/>
<circle cx="578.2" cy="75.9" r="3.9" fill="#f21414"/>
<circle cx="604.8" cy="47.6" r="3.9" fill="#f21414"/>
<path d="M313.0 273.6H323.7M313.0 271.3V275.9M323.7 271.3V275.9" stroke="#4040ff" stroke-width="1.2" fill="none" opacity="0.9"/>
<path d="M363.4 245.4H374.5M363.4 243.1V247.7M374.5 243.1V247.7" stroke="#4040ff" stroke-width="1.2" fill="none" opacity="0.9"/>
<path d="M396.4 217.1H406.4M396.4 214.8V219.4M406.4 214.8V219.4" stroke="#4040ff" stroke-width="1.2" fill="none" opacity="0.9"/>
<path d="M426.1 188.9H442.4M426.1 186.6V191.2M442.4 186.6V191.2" stroke="#4040ff" stroke-width="1.2" fill="none" opacity="0.9"/>
<path d="M454.3 160.6H474.3M454.3 158.3V162.9M474.3 158.3V162.9" stroke="#4040ff" stroke-width="1.2" fill="none" opacity="0.9"/>
<path d="M483.0 132.4H504.1M483.0 130.1V134.7M504.1 130.1V134.7" stroke="#4040ff" stroke-width="1.2" fill="none" opacity="0.9"/>
<path d="M511.9 104.1H537.7M511.9 101.8V106.4M537.7 101.8V106.4" stroke="#4040ff" stroke-width="1.2" fill="none" opacity="0.9"/>
<path d="M547.3 75.9H571.1M547.3 73.6V78.2M571.1 73.6V78.2" stroke="#4040ff" stroke-width="1.2" fill="none" opacity="0.9"/>
<path d="M583.6 47.6H609.8M583.6 45.3V49.9M609.8 45.3V49.9" stroke="#4040ff" stroke-width="1.2" fill="none" opacity="0.9"/>
<rect x="315.3" y="270.6" width="6" height="6" fill="#1515ee"/>
<rect x="366.0" y="242.4" width="6" height="6" fill="#1515ee"/>
<rect x="398.4" y="214.1" width="6" height="6" fill="#1515ee"/>
<rect x="431.3" y="185.9" width="6" height="6" fill="#1515ee"/>
<rect x="461.3" y="157.6" width="6" height="6" fill="#1515ee"/>
<rect x="490.6" y="129.4" width="6" height="6" fill="#1515ee"/>
<rect x="521.8" y="101.1" width="6" height="6" fill="#1515ee"/>
<rect x="556.2" y="72.9" width="6" height="6" fill="#1515ee"/>
<rect x="593.7" y="44.6" width="6" height="6" fill="#1515ee"/>
<path d="M361.5 245.4H368.7M361.5 243.4V247.4M368.7 243.4V247.4" stroke="#22cc22" stroke-width="1" fill="none" opacity="0.8"/>
<path d="M395.8 217.1H405.9M395.8 215.1V219.1M405.9 215.1V219.1" stroke="#22cc22" stroke-width="1" fill="none" opacity="0.8"/>
<path d="M430.3 188.9H437.1M430.3 186.9V190.9M437.1 186.9V190.9" stroke="#22cc22" stroke-width="1" fill="none" opacity="0.8"/>
<path d="M459.9 160.6H467.5M459.9 158.6V162.6M467.5 158.6V162.6" stroke="#22cc22" stroke-width="1" fill="none" opacity="0.8"/>
<path d="M487.4 132.4H498.6M487.4 130.4V134.4M498.6 130.4V134.4" stroke="#22cc22" stroke-width="1" fill="none" opacity="0.8"/>
<path d="M520.6 104.1H528.0M520.6 102.1V106.1M528.0 102.1V106.1" stroke="#22cc22" stroke-width="1" fill="none" opacity="0.8"/>
<path d="M553.4 75.9H563.9M553.4 73.9V77.9M563.9 73.9V77.9" stroke="#22cc22" stroke-width="1" fill="none" opacity="0.8"/>
<path d="M589.9 47.6H597.7M589.9 45.6V49.6M597.7 45.6V49.6" stroke="#22cc22" stroke-width="1" fill="none" opacity="0.8"/>
<path d="M318.3 269.2L323.7 276.2H312.9Z" fill="#1515ee"/>
<path d="M365.1 240.8L370.7 248.4H359.5Z" fill="#0fd60f"/>
<path d="M400.9 212.5L406.5 220.1H395.3Z" fill="#0fd60f"/>
<path d="M433.7 184.3L439.3 191.9H428.1Z" fill="#0fd60f"/>
<path d="M463.7 156.0L469.3 163.6H458.1Z" fill="#0fd60f"/>
<path d="M493.0 127.8L498.6 135.4H487.4Z" fill="#0fd60f"/>
<path d="M524.3 99.5L529.9 107.1H518.7Z" fill="#0fd60f"/>
<path d="M558.6 71.3L564.2 78.9H553.0Z" fill="#0fd60f"/>
<path d="M593.8 43.0L599.4 50.6H588.2Z" fill="#0fd60f"/>
</g>
<g stroke="#666" stroke-width="1" fill="none">
<path d="M259.5 316.0h5"/>
<path d="M259.5 287.8h2.5"/>
<path d="M259.5 259.5h5"/>
<path d="M259.5 231.2h2.5"/>
<path d="M259.5 203.0h5"/>
<path d="M259.5 174.8h2.5"/>
<path d="M259.5 146.5h5"/>
<path d="M259.5 118.2h2.5"/>
<path d="M259.5 90.0h5"/>
<path d="M259.5 61.8h2.5"/>
<path d="M259.5 33.5h5"/>
<path d="M259.9 316v-2.5"/>
<path d="M315.5 316v-5"/>
<path d="M371.1 316v-2.5"/>
<path d="M426.8 316v-5"/>
<path d="M482.4 316v-2.5"/>
<path d="M538.0 316v-5"/>
<path d="M593.6 316v-2.5"/>
<path d="M649.2 316v-5"/>
</g>
<g font-family="Liberation Sans, Arial, sans-serif" font-size="24" fill="#111">
<text x="240.9" y="323.9" textLength="14.4" lengthAdjust="spacingAndGlyphs">0</text>
<text x="240.9" y="267.4" textLength="14.4" lengthAdjust="spacingAndGlyphs">2</text>
<text x="240.9" y="210.9" textLength="14.4" lengthAdjust="spacingAndGlyphs">4</text>
<text x="240.9" y="154.4" textLength="14.4" lengthAdjust="spacingAndGlyphs">6</text>
<text x="240.9" y="97.9" textLength="14.4" lengthAdjust="spacingAndGlyphs">8</text>
<text x="226.7" y="41.4" textLength="28.6" lengthAdjust="spacingAndGlyphs">10</text>
<text x="297.4" y="342" textLength="36" lengthAdjust="spacingAndGlyphs">0.4</text>
<text x="408.6" y="342" textLength="36" lengthAdjust="spacingAndGlyphs">0.5</text>
<text x="519.9" y="342" textLength="36" lengthAdjust="spacingAndGlyphs">0.6</text>
<text x="631.1" y="342" textLength="36" lengthAdjust="spacingAndGlyphs">0.7</text>
</g>
<g font-family="Liberation Serif, Times New Roman, serif" font-weight="bold" fill="#111">
<text x="464.5" y="378" font-size="31" text-anchor="middle">u/U</text>
<text transform="translate(211.5 174.6) rotate(-90)" font-size="31" text-anchor="middle">y(pixel)</text>
</g>
</g>
</svg>
</body></html>
